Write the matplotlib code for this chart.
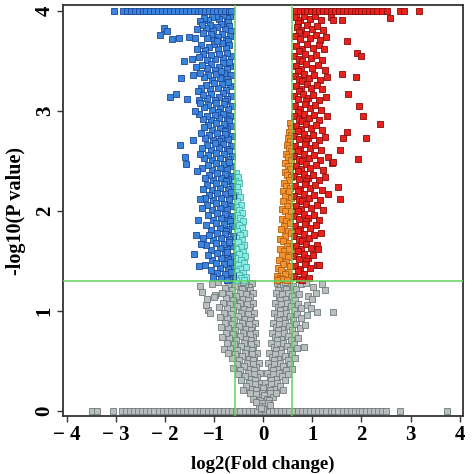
import matplotlib
matplotlib.use("Agg")
import matplotlib.pyplot as plt

# cut-offs
fc_cut = 0.585
p_cut = 1.301

# genes capped at -log10(P) = 4 (top row) and at 0 (bottom row)
blue_top_x = [-3.05, -2.86, -2.78, -2.70, -2.62, -2.54, -2.46, -2.38, -2.30, -2.22, -2.14,
              -2.06, -1.98, -1.90, -1.82, -1.74, -1.66, -1.58, -1.50, -1.42, -1.34, -1.26,
              -1.18, -1.10, -1.02, -0.94, -0.86, -0.78, -0.70, -0.66]
red_top_x = [0.66, 0.74, 0.82, 0.90, 0.98, 1.06, 1.14, 1.22, 1.30, 1.38, 1.46, 1.54, 1.62,
             1.70, 1.78, 1.86, 1.92, 2.00, 2.08, 2.16, 2.24, 2.32, 2.42, 2.52, 2.78, 2.86, 3.17]
gray_bottom_x = [-3.50, -3.38, -3.06, -2.88, -2.80, -2.71, -2.63, -2.55, -2.47, -2.38, -2.30,
                 -2.22, -2.13, -2.05, -1.97, -1.88, -1.80, -1.72, -1.63, -1.55, -1.47, -1.38,
                 -1.30, -1.22, -1.13, -1.05, -0.97, -0.88, -0.80, -0.72, -0.63, -0.55, -0.47,
                 -0.38, -0.30, -0.22, -0.13, -0.05, 0.03, 0.12, 0.20, 0.28, 0.37, 0.45, 0.53,
                 0.62, 0.70, 0.78, 0.87, 0.95, 1.03, 1.12, 1.20, 1.28, 1.37, 1.45, 1.53, 1.62,
                 1.70, 1.78, 1.87, 1.95, 2.02, 2.10, 2.18, 2.26, 2.34, 2.42, 2.50, 2.79, 3.75]

# down-regulated (blue)
blue_pts = [
    (-0.68, 3.95), (-0.75, 3.93), (-0.83, 3.96), (-0.90, 3.92), (-0.97, 3.95), (-1.05, 3.94), (-1.12, 3.91), (-1.20, 3.93), (-0.71, 3.89), (-1.30, 3.90),
    (-0.70, 3.85), (-0.78, 3.82), (-0.86, 3.87), (-0.94, 3.84), (-1.02, 3.81), (-1.09, 3.86), (-1.17, 3.83), (-1.25, 3.86), (-0.66, 3.80), (-1.35, 3.82),
    (-0.68, 3.75), (-0.76, 3.72), (-0.84, 3.77), (-0.92, 3.74), (-1.00, 3.71), (-1.07, 3.77), (-1.15, 3.73), (-1.22, 3.78), (-0.72, 3.70), (-1.40, 3.73),
    (-0.69, 3.66), (-0.77, 3.63), (-0.85, 3.68), (-0.93, 3.62), (-1.01, 3.67), (-1.10, 3.64), (-1.18, 3.61), (-1.27, 3.66), (-0.95, 3.70), (-1.36, 3.62),
    (-0.66, 3.55), (-0.74, 3.58), (-0.82, 3.53), (-0.90, 3.57), (-0.98, 3.52), (-1.06, 3.56), (-1.14, 3.51), (-1.23, 3.57), (-1.32, 3.54), (-1.45, 3.52),
    (-0.67, 3.45), (-0.75, 3.42), (-0.83, 3.48), (-0.91, 3.44), (-0.99, 3.41), (-1.07, 3.47), (-1.15, 3.43), (-1.24, 3.46), (-0.70, 3.49), (-1.38, 3.44),
    (-0.65, 3.36), (-0.73, 3.32), (-0.81, 3.38), (-0.89, 3.33), (-0.97, 3.37), (-1.05, 3.31), (-1.13, 3.36), (-1.21, 3.34), (-1.30, 3.38), (-0.86, 3.40),
    (-0.68, 3.25), (-0.76, 3.21), (-0.84, 3.27), (-0.92, 3.23), (-1.00, 3.28), (-1.08, 3.22), (-1.16, 3.26), (-1.26, 3.23), (-0.72, 3.29), (-1.33, 3.20),
    (-0.66, 3.15), (-0.74, 3.12), (-0.82, 3.18), (-0.90, 3.14), (-0.98, 3.11), (-1.06, 3.17), (-1.14, 3.13), (-1.22, 3.16), (-1.31, 3.11), (-0.79, 3.10),
    (-0.64, 3.05), (-0.72, 3.02), (-0.80, 3.07), (-0.88, 3.03), (-0.96, 3.08), (-1.04, 3.01), (-1.12, 3.06), (-1.20, 3.04), (-1.28, 3.08), (-0.93, 2.99),
    (-0.67, 2.95), (-0.75, 2.92), (-0.83, 2.97), (-0.91, 2.93), (-0.99, 2.96), (-1.07, 2.91), (-1.15, 2.95), (-1.23, 2.92), (-1.32, 2.97), (-0.70, 2.90),
    (-0.65, 2.85), (-0.73, 2.82), (-0.81, 2.87), (-0.89, 2.83), (-0.97, 2.88), (-1.05, 2.81), (-1.13, 2.86), (-1.21, 2.84), (-0.78, 2.80),
    (-0.63, 2.75), (-0.71, 2.72), (-0.79, 2.77), (-0.87, 2.73), (-0.95, 2.78), (-1.03, 2.71), (-1.11, 2.76), (-1.19, 2.73), (-1.27, 2.78), (-0.90, 2.70),
    (-0.66, 2.65), (-0.74, 2.62), (-0.82, 2.67), (-0.90, 2.63), (-0.98, 2.68), (-1.06, 2.61), (-1.14, 2.66), (-1.24, 2.63), (-0.70, 2.60),
    (-0.64, 2.55), (-0.72, 2.52), (-0.80, 2.57), (-0.88, 2.53), (-0.96, 2.58), (-1.04, 2.51), (-1.12, 2.56), (-1.20, 2.53), (-1.30, 2.57),
    (-0.65, 2.45), (-0.73, 2.42), (-0.81, 2.47), (-0.89, 2.43), (-0.97, 2.48), (-1.05, 2.41), (-1.13, 2.46), (-1.24, 2.43), (-0.69, 2.49),
    (-0.63, 2.35), (-0.71, 2.32), (-0.79, 2.37), (-0.87, 2.33), (-0.95, 2.38), (-1.03, 2.31), (-1.11, 2.36), (-1.19, 2.33), (-0.76, 2.30),
    (-0.64, 2.25), (-0.72, 2.22), (-0.80, 2.27), (-0.88, 2.23), (-0.96, 2.28), (-1.04, 2.21), (-1.14, 2.26), (-1.22, 2.22),
    (-0.62, 2.15), (-0.70, 2.12), (-0.78, 2.17), (-0.86, 2.13), (-0.94, 2.18), (-1.02, 2.11), (-1.10, 2.16), (-1.18, 2.13), (-0.66, 2.19),
    (-0.65, 2.05), (-0.73, 2.02), (-0.81, 2.07), (-0.89, 2.03), (-0.97, 2.08), (-1.05, 2.01), (-1.15, 2.06), (-1.24, 2.03),
    (-0.63, 1.95), (-0.71, 1.92), (-0.79, 1.97), (-0.87, 1.93), (-0.95, 1.98), (-1.03, 1.91), (-1.12, 1.96), (-0.68, 1.90),
    (-0.64, 1.85), (-0.72, 1.82), (-0.80, 1.87), (-0.88, 1.83), (-0.96, 1.88), (-1.06, 1.81), (-1.16, 1.86), (-0.76, 1.80),
    (-0.62, 1.75), (-0.70, 1.72), (-0.78, 1.77), (-0.86, 1.73), (-0.94, 1.78), (-1.02, 1.71), (-1.10, 1.76), (-1.22, 1.73),
    (-0.65, 1.65), (-0.73, 1.62), (-0.81, 1.67), (-0.89, 1.63), (-0.97, 1.68), (-1.07, 1.61), (-1.16, 1.66), (-0.69, 1.69),
    (-0.63, 1.55), (-0.71, 1.52), (-0.79, 1.57), (-0.87, 1.53), (-0.95, 1.58), (-1.04, 1.51), (-1.13, 1.56), (-0.75, 1.59),
    (-0.64, 1.45), (-0.72, 1.42), (-0.80, 1.47), (-0.88, 1.43), (-0.96, 1.48), (-1.06, 1.41), (-0.68, 1.49), (-1.18, 1.46),
    (-0.62, 1.35), (-0.70, 1.32), (-0.78, 1.37), (-0.86, 1.33), (-0.94, 1.38), (-1.02, 1.34), (-0.66, 1.39), (-0.74, 1.31),
    # scattered ones
    (-2.11, 3.76), (-2.02, 3.83), (-1.96, 3.80), (-1.87, 3.72), (-1.71, 3.73), (-1.51, 3.74),
    (-1.90, 3.14), (-1.78, 3.17), (-1.55, 3.12), (-1.68, 3.33), (-1.44, 3.36), (-1.62, 3.50),
    (-1.69, 2.66), (-1.59, 2.54), (-1.57, 2.47), (-1.44, 2.71), (-1.36, 2.40), (-1.30, 2.12),
    (-1.33, 1.91), (-1.38, 1.76), (-1.41, 1.57), (-1.32, 1.45), (-1.27, 1.67), (-1.40, 3.00),
]

# not significant fold change, P < 0.05 (left: cyan, right: orange)
cyan_pts = [
    (-0.56, 2.38), (-0.52, 2.34), (-0.57, 2.30), (-0.49, 2.28), (-0.54, 2.24), (-0.51, 2.19), (-0.57, 2.16),
    (-0.47, 2.14), (-0.53, 2.10), (-0.45, 2.06), (-0.56, 2.04), (-0.49, 2.01), (-0.43, 1.98), (-0.54, 1.96),
    (-0.47, 1.93), (-0.41, 1.90), (-0.57, 1.88), (-0.50, 1.86), (-0.44, 1.83), (-0.54, 1.80), (-0.40, 1.78),
    (-0.47, 1.76), (-0.56, 1.73), (-0.43, 1.71), (-0.51, 1.69), (-0.39, 1.66), (-0.46, 1.64), (-0.55, 1.62),
    (-0.42, 1.59), (-0.50, 1.57), (-0.37, 1.55), (-0.57, 1.53), (-0.45, 1.51), (-0.40, 1.48), (-0.52, 1.46),
    (-0.36, 1.44), (-0.47, 1.42), (-0.56, 1.40), (-0.41, 1.38), (-0.50, 1.36), (-0.35, 1.34), (-0.45, 1.33),
    (-0.55, 1.31), (-0.39, 1.31),
]
orange_pts = [
    (0.54, 2.88), (0.56, 2.83), (0.52, 2.79), (0.57, 2.76), (0.50, 2.73), (0.55, 2.70), (0.48, 2.66),
    (0.53, 2.63), (0.57, 2.60), (0.47, 2.57), (0.51, 2.54), (0.56, 2.51), (0.45, 2.48), (0.50, 2.45),
    (0.54, 2.42), (0.44, 2.39), (0.48, 2.36), (0.57, 2.34), (0.52, 2.31), (0.43, 2.28), (0.47, 2.25),
    (0.55, 2.23), (0.41, 2.20), (0.50, 2.18), (0.45, 2.15), (0.57, 2.13), (0.40, 2.10), (0.53, 2.08),
    (0.48, 2.05), (0.39, 2.02), (0.44, 2.00), (0.56, 1.98), (0.50, 1.95), (0.38, 1.92), (0.46, 1.90),
    (0.54, 1.88), (0.42, 1.85), (0.36, 1.82), (0.50, 1.80), (0.57, 1.78), (0.45, 1.75), (0.35, 1.72),
    (0.40, 1.70), (0.53, 1.68), (0.48, 1.65), (0.34, 1.62), (0.43, 1.60), (0.56, 1.58), (0.38, 1.56),
    (0.51, 1.54), (0.32, 1.51), (0.46, 1.49), (0.41, 1.47), (0.55, 1.45), (0.30, 1.43), (0.36, 1.41),
    (0.50, 1.39), (0.44, 1.37), (0.28, 1.35), (0.33, 1.33), (0.56, 1.34), (0.39, 1.32), (0.48, 1.31),
    (0.27, 1.31), (0.53, 1.62), (0.57, 2.00), (0.52, 2.20),
]

# up-regulated (red)
red_pts = [
    (0.66, 3.94), (0.74, 3.91), (0.83, 3.95), (0.95, 3.92), (1.05, 3.95), (1.18, 3.91), (0.70, 3.88), (1.38, 3.94),
    (0.68, 3.84), (0.77, 3.81), (0.88, 3.86), (0.99, 3.82), (1.10, 3.85), (1.22, 3.81), (0.73, 3.79),
    (0.65, 3.75), (0.75, 3.72), (0.86, 3.77), (0.96, 3.73), (1.07, 3.76), (1.16, 3.71), (1.27, 3.74),
    (0.67, 3.65), (0.78, 3.62), (0.90, 3.67), (1.01, 3.63), (1.13, 3.66), (0.72, 3.60), (1.24, 3.62),
    (0.63, 3.55), (0.72, 3.52), (0.84, 3.57), (0.97, 3.53), (1.08, 3.56), (1.20, 3.51), (0.78, 3.50),
    (0.66, 3.45), (0.76, 3.42), (0.87, 3.47), (1.00, 3.43), (1.11, 3.46), (1.25, 3.41), (0.70, 3.40),
    (0.64, 3.35), (0.73, 3.32), (0.83, 3.37), (0.93, 3.33), (1.04, 3.36), (1.15, 3.31), (1.30, 3.34), (0.78, 3.30),
    (0.67, 3.25), (0.77, 3.22), (0.88, 3.27), (0.98, 3.23), (1.09, 3.26), (1.20, 3.22), (0.72, 3.20),
    (0.62, 3.15), (0.71, 3.12), (0.81, 3.17), (0.91, 3.13), (1.02, 3.16), (1.13, 3.11), (1.27, 3.14), (0.86, 3.10),
    (0.65, 3.05), (0.75, 3.02), (0.85, 3.07), (0.95, 3.03), (1.06, 3.06), (1.18, 3.01), (0.70, 2.99),
    (0.63, 2.95), (0.73, 2.92), (0.83, 2.97), (0.93, 2.93), (1.04, 2.96), (1.14, 2.91), (1.29, 2.95), (0.78, 2.90),
    (0.66, 2.85), (0.76, 2.82), (0.86, 2.87), (0.97, 2.83), (1.08, 2.86), (1.20, 2.81), (0.71, 2.80),
    (0.62, 2.75), (0.72, 2.72), (0.82, 2.77), (0.92, 2.73), (1.02, 2.76), (1.13, 2.71), (1.25, 2.74), (0.87, 2.70),
    (0.65, 2.65), (0.75, 2.62), (0.85, 2.67), (0.95, 2.63), (1.06, 2.66), (1.18, 2.61), (0.70, 2.60),
    (0.63, 2.55), (0.73, 2.52), (0.83, 2.57), (0.93, 2.53), (1.03, 2.56), (1.15, 2.51), (1.32, 2.54), (0.78, 2.50),
    (0.66, 2.45), (0.76, 2.42), (0.86, 2.47), (0.96, 2.43), (1.07, 2.46), (1.21, 2.41), (0.71, 2.40),
    (0.62, 2.35), (0.72, 2.32), (0.82, 2.37), (0.92, 2.33), (1.02, 2.36), (1.14, 2.31), (1.26, 2.34), (0.87, 2.30),
    (0.65, 2.25), (0.75, 2.22), (0.85, 2.27), (0.95, 2.23), (1.06, 2.26), (1.19, 2.21), (0.70, 2.20),
    (0.63, 2.15), (0.73, 2.12), (0.83, 2.17), (0.93, 2.13), (1.04, 2.16), (1.16, 2.11), (0.78, 2.10),
    (0.66, 2.05), (0.76, 2.02), (0.86, 2.07), (0.97, 2.03), (1.09, 2.06), (1.22, 2.01), (0.71, 2.00),
    (0.62, 1.95), (0.72, 1.92), (0.82, 1.97), (0.92, 1.93), (1.03, 1.96), (1.13, 1.91), (0.87, 1.90),
    (0.65, 1.85), (0.75, 1.82), (0.85, 1.87), (0.96, 1.83), (1.08, 1.86), (0.70, 1.80),
    (0.63, 1.75), (0.73, 1.72), (0.83, 1.77), (0.93, 1.73), (1.04, 1.76), (0.78, 1.70),
    (0.66, 1.65), (0.76, 1.62), (0.86, 1.67), (0.97, 1.63), (1.09, 1.66), (0.71, 1.60),
    (0.62, 1.55), (0.72, 1.52), (0.82, 1.57), (0.92, 1.53), (1.02, 1.56), (0.87, 1.50),
    (0.65, 1.45), (0.75, 1.42), (0.85, 1.47), (0.95, 1.43), (1.10, 1.46), (0.70, 1.40),
    (0.63, 1.35), (0.73, 1.32), (0.83, 1.37), (0.93, 1.33), (0.78, 1.31),
    # scattered ones
    (2.58, 3.93), (1.60, 3.91), (1.41, 3.91), (1.70, 3.70), (1.90, 3.58), (1.99, 3.55), (1.60, 3.37),
    (1.88, 3.34), (1.72, 3.17), (1.94, 3.05), (2.03, 2.95), (2.37, 2.87), (1.70, 2.79), (2.09, 2.73),
    (1.62, 2.73), (1.56, 2.61), (1.93, 2.52), (1.53, 2.24), (1.56, 2.12), (1.39, 2.48), (1.42, 2.49),
    (1.31, 2.17), (1.17, 1.78), (1.12, 1.62), (1.14, 1.46),
]

# not significant (gray)
gray_pts = [
    (-0.24, 1.28), (-0.30, 1.24), (-0.37, 1.27), (-0.44, 1.22), (-0.50, 1.28), (-0.57, 1.25), (-0.64, 1.21), (-0.71, 1.27), (-0.79, 1.23), (-0.27, 1.21), (-0.41, 1.29),
    (-1.28, 1.25), (-1.24, 1.19), (-1.05, 1.27), (-0.93, 1.29), (-0.98, 1.16),
    (0.27, 1.28), (0.33, 1.24), (0.40, 1.27), (0.46, 1.22), (0.53, 1.28), (0.60, 1.25), (0.67, 1.22), (0.30, 1.21), (0.44, 1.29), (0.76, 1.27),
    (0.87, 1.28), (1.20, 1.27), (1.25, 1.21), (1.02, 1.24),
    (-0.22, 1.18), (-0.28, 1.14), (-0.35, 1.17), (-0.42, 1.12), (-0.48, 1.18), (-0.55, 1.15), (-0.62, 1.11), (-0.69, 1.17), (-0.76, 1.13), (-0.84, 1.18), (-0.32, 1.11),
    (-1.01, 1.14), (-1.14, 1.12),
    (0.25, 1.18), (0.31, 1.14), (0.38, 1.17), (0.44, 1.12), (0.51, 1.18), (0.58, 1.15), (0.65, 1.11), (0.72, 1.17), (0.35, 1.11),
    (0.92, 1.15), (1.00, 1.12), (1.08, 1.18),
    (-0.21, 1.08), (-0.27, 1.04), (-0.34, 1.07), (-0.40, 1.02), (-0.47, 1.08), (-0.54, 1.05), (-0.61, 1.01), (-0.68, 1.07), (-0.75, 1.03), (-0.83, 1.08), (-0.90, 1.04), (-0.30, 1.01),
    (-1.13, 1.01), (-1.17, 1.06), (-1.08, 0.98),
    (0.23, 1.08), (0.29, 1.04), (0.36, 1.07), (0.42, 1.02), (0.49, 1.08), (0.56, 1.05), (0.63, 1.01), (0.70, 1.07), (0.77, 1.03), (0.33, 1.01),
    (0.90, 1.06), (1.10, 0.99), (1.42, 0.99), (0.97, 1.03),
    (-0.19, 0.98), (-0.25, 0.94), (-0.32, 0.97), (-0.38, 0.92), (-0.45, 0.98), (-0.52, 0.95), (-0.59, 0.91), (-0.66, 0.97), (-0.73, 0.93), (-0.81, 0.98), (-0.88, 0.94), (-0.28, 0.91),
    (0.21, 0.98), (0.27, 0.94), (0.34, 0.97), (0.40, 0.92), (0.47, 0.98), (0.54, 0.95), (0.61, 0.91), (0.68, 0.97), (0.76, 0.93), (0.31, 0.91), (0.88, 0.96),
    (-0.17, 0.88), (-0.23, 0.84), (-0.30, 0.87), (-0.36, 0.82), (-0.43, 0.88), (-0.50, 0.85), (-0.57, 0.81), (-0.64, 0.87), (-0.71, 0.83), (-0.79, 0.88), (-0.87, 0.84), (-0.26, 0.81),
    (0.19, 0.88), (0.25, 0.84), (0.32, 0.87), (0.38, 0.82), (0.45, 0.88), (0.52, 0.85), (0.59, 0.81), (0.66, 0.87), (0.74, 0.83), (0.29, 0.81), (0.85, 0.86),
    (-0.16, 0.78), (-0.22, 0.74), (-0.28, 0.77), (-0.35, 0.72), (-0.41, 0.78), (-0.48, 0.75), (-0.55, 0.71), (-0.62, 0.77), (-0.69, 0.73), (-0.77, 0.78), (-0.84, 0.74), (-0.25, 0.71),
    (0.17, 0.78), (0.23, 0.74), (0.30, 0.77), (0.36, 0.72), (0.43, 0.78), (0.50, 0.75), (0.57, 0.71), (0.64, 0.77), (0.71, 0.73), (0.27, 0.71),
    (-0.14, 0.68), (-0.20, 0.64), (-0.26, 0.67), (-0.33, 0.62), (-0.39, 0.68), (-0.46, 0.65), (-0.53, 0.61), (-0.60, 0.67), (-0.67, 0.63), (-0.75, 0.68), (-0.80, 0.62), (-0.23, 0.61),
    (0.15, 0.68), (0.21, 0.64), (0.27, 0.67), (0.34, 0.62), (0.41, 0.68), (0.48, 0.65), (0.55, 0.61), (0.62, 0.67), (0.69, 0.63), (0.25, 0.61), (0.83, 0.64),
    (-0.12, 0.58), (-0.18, 0.54), (-0.24, 0.57), (-0.30, 0.52), (-0.37, 0.58), (-0.43, 0.55), (-0.50, 0.51), (-0.57, 0.57), (-0.64, 0.53), (-0.72, 0.58), (-0.21, 0.51),
    (0.12, 0.58), (0.18, 0.54), (0.24, 0.57), (0.30, 0.52), (0.37, 0.58), (0.44, 0.55), (0.51, 0.51), (0.58, 0.57), (0.64, 0.53), (0.22, 0.51),
    (-0.09, 0.48), (-0.15, 0.44), (-0.21, 0.47), (-0.27, 0.42), (-0.33, 0.48), (-0.40, 0.45), (-0.47, 0.41), (-0.54, 0.47), (-0.61, 0.43), (-0.18, 0.41),
    (0.09, 0.48), (0.15, 0.44), (0.21, 0.47), (0.27, 0.42), (0.33, 0.48), (0.40, 0.45), (0.47, 0.41), (0.54, 0.47), (0.58, 0.42), (0.19, 0.41),
    (-0.07, 0.38), (-0.13, 0.34), (-0.19, 0.37), (-0.25, 0.32), (-0.31, 0.38), (-0.38, 0.35), (-0.45, 0.31), (-0.51, 0.37), (-0.16, 0.31),
    (0.07, 0.38), (0.13, 0.34), (0.19, 0.37), (0.25, 0.32), (0.31, 0.38), (0.38, 0.35), (0.45, 0.31), (0.51, 0.37), (0.16, 0.31),
    (-0.05, 0.28), (-0.11, 0.24), (-0.17, 0.27), (-0.23, 0.22), (-0.29, 0.28), (-0.36, 0.25), (-0.41, 0.21), (-0.14, 0.21),
    (0.04, 0.28), (0.10, 0.24), (0.16, 0.27), (0.22, 0.22), (0.28, 0.28), (0.35, 0.25), (0.41, 0.21), (0.13, 0.21), (0.00, 0.23),
    (-0.03, 0.18), (-0.09, 0.14), (-0.15, 0.17), (-0.21, 0.12), (-0.27, 0.18), (-0.06, 0.11),
    (0.02, 0.16), (0.08, 0.12), (0.14, 0.18), (0.20, 0.14), (0.26, 0.18), (0.11, 0.11),
    (-0.02, 0.08), (-0.08, 0.05), (-0.14, 0.09), (0.03, 0.05), (0.09, 0.08), (0.14, 0.06), (0.00, 0.02), (-0.05, 0.03),
]

x_ticks = [-4, -3, -2, -1, 0, 1, 2, 3, 4]
x_tick_labels = ["\u2212 4", "\u2212 3", "\u2212 2", "\u22121", "0", "1", "2", "3", "4"]
y_ticks = [0, 1, 2, 3, 4]

serif = ["Liberation Serif", "DejaVu Serif"]

fig = plt.figure(figsize=(4.74, 4.74), dpi=100)
ax = fig.add_axes([0.133, 0.122, 0.844, 0.867])


def squares(pts, face, edge):
    xs = [p[0] for p in pts]
    ys = [p[1] for p in pts]
    ax.scatter(xs, ys, s=21, marker="s", c=face, edgecolors=edge, linewidths=0.6, zorder=2)


squares([(x, 0.0) for x in gray_bottom_x], "#b9bebe", "#6f7b7b")
squares(gray_pts, "#b9bebe", "#6f7b7b")
squares(cyan_pts, "#86ece4", "#48b0ac")
squares(orange_pts, "#f3922f", "#b2600f")
squares(blue_pts, "#3a84dc", "#1c4696")
squares([(x, 4.0) for x in blue_top_x], "#3a84dc", "#1c4696")
squares(red_pts, "#e8231d", "#8a0c0c")
squares([(x, 4.0) for x in red_top_x], "#e8231d", "#8a0c0c")

ax.axvline(-fc_cut, color="#5fd35f", lw=1.1, zorder=3)
ax.axvline(fc_cut, color="#5fd35f", lw=1.1, zorder=3)
ax.axhline(p_cut, color="#5fd35f", lw=1.1, zorder=3)

ax.set_xlim(-4.08, 4.07)
ax.set_ylim(-0.05, 4.06)
ax.set_xticks(x_ticks)
ax.set_xticklabels(x_tick_labels)
ax.set_yticks(y_ticks)
for lab in ax.get_xticklabels():
    lab.set_fontfamily(serif)
    lab.set_fontweight("bold")
    lab.set_fontsize(15)
for lab in ax.get_yticklabels():
    lab.set_fontfamily(serif)
    lab.set_fontweight("bold")
    lab.set_fontsize(15)
    lab.set_rotation(90)
    lab.set_va("center")
ax.tick_params(direction="out", length=4, width=1, color="#333333", pad=2)

ax.set_xlabel("log2(Fold change)", fontfamily=serif, fontweight="bold", fontsize=13.5, labelpad=8)
ax.set_ylabel("-log10(P value)", fontfamily=serif, fontweight="bold", fontsize=14.5, labelpad=6)

for sp in ax.spines.values():
    sp.set_color("#333333")
    sp.set_linewidth(1.3)

fig.savefig("out.png", dpi=100)
